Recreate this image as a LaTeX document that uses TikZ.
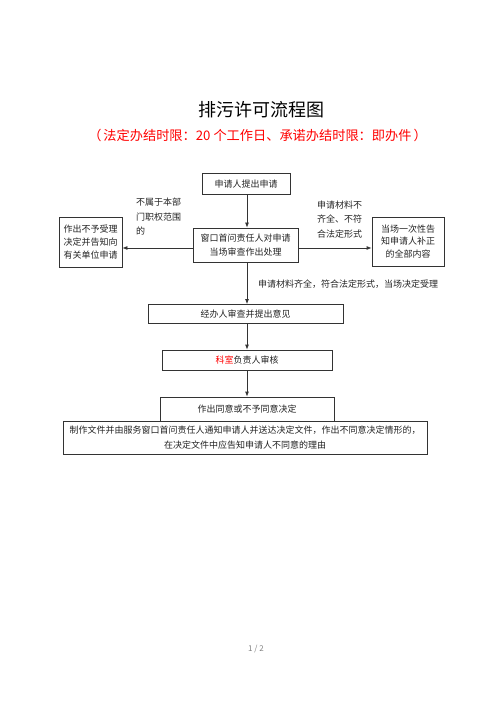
\documentclass[tikz,border=0pt]{standalone}
\usepackage{fontspec}
\setmainfont{Noto Sans CJK SC}
\usepackage{xcolor}
\usetikzlibrary{arrows.meta, positioning}
\definecolor{LineGray}{HTML}{333333}
\definecolor{InkGray}{HTML}{222222}
\definecolor{AlertRed}{HTML}{FF0000}
\newcommand{\redtext}[1]{\textcolor{AlertRed}{#1}}

\begin{document}
\begin{tikzpicture}[x=1pt, y=-1pt,
    stepbox/.style={draw=LineGray, line width=0.8pt, inner sep=0pt, align=center,
                    text=InkGray, font=\fontsize{9}{13}\selectfont},
    note/.style={inner sep=0pt, align=left, text=InkGray, font=\fontsize{9}{14.5}\selectfont},
    flow/.style={-{Latex[length=5pt,width=4pt]}, draw=LineGray, line width=0.8pt}]
    \useasboundingbox (0,0) rectangle (500,708);

    % Title
    \node[font=\fontsize{18}{20}\selectfont, text=black] (title) at (261.5,110) {排污许可流程图};
    \node[font=\fontsize{13.2}{15}\selectfont, text=AlertRed] (limit) at (257.5,135)
        {（\kern2pt 法定办结时限：20 个工作日、承诺办结时限：即办件\kern2pt ）};

    % Application and window check
    \node[stepbox, minimum width=88, minimum height=21] (apply) at (246,184) {申请人提出申请};
    \node[stepbox, minimum width=105, minimum height=34, font=\fontsize{9}{14}\selectfont]
        (window) at (245.5,245) {窗口首问责任人对申请\\当场审查作出处理};

    % Side outcomes
    \node[stepbox, minimum width=63, minimum height=50, font=\fontsize{9}{12.7}\selectfont]
        (reject) at (90.5,242) {作出不予受理\\决定并告知向\\有关单位申请};
    \node[stepbox, minimum width=72, minimum height=49, font=\fontsize{9}{12.7}\selectfont]
        (amend) at (408,241.5) {当场一次性告\\知申请人补正\\的全部内容};
    \node[note, anchor=west] (outscope) at (136,216.5) {不属于本部\\门职权范围\\的};
    \node[note, anchor=west] (incomplete) at (317,219.5) {申请材料不\\齐全、不符\\合法定形式};

    % Main line
    \node[stepbox, minimum width=195, minimum height=19] (review) at (245.5,314) {经办人审查并提出意见};
    \node[stepbox, minimum width=170, minimum height=20] (audit) at (247,360) {\redtext{科室}负责人审核};
    \node[stepbox, minimum width=174, minimum height=24] (decide) at (247,409) {作出同意或不予同意决定};
    \node[stepbox, minimum width=364, minimum height=33, font=\fontsize{9}{15}\selectfont]
        (notify) at (245,437.5)
        {制作文件并由服务窗口首问责任人通知申请人并送达决定文件，作出不同意决定情形的，\\在决定文件中应告知申请人不同意的理由};
    \node[note, anchor=west] (accept) at (258,284) {申请材料齐全，符合法定形式，当场决定受理};

    % Connectors
    \draw[flow] (apply.south -| 247,0) -- (window.north -| 247,0);
    \draw[flow] ([yshift=-3pt]window.west) -- ([yshift=-3pt]window.west -| reject.east);
    \draw[flow] ([yshift=-3pt]window.east) -- ([yshift=-3pt]window.east -| amend.west);
    \draw[flow] (window.south -| 247,0) -- (review.north -| 247,0);
    \draw[flow] (review.south -| 247,0) -- (audit.north -| 247,0);
    \draw[flow] (audit.south -| 247,0) -- (decide.north -| 247,0);

    % Page number
    \node[font=\fontsize{8}{9}\selectfont, text=gray] (page) at (256,649) {1 / 2};
\end{tikzpicture}
\end{document}
